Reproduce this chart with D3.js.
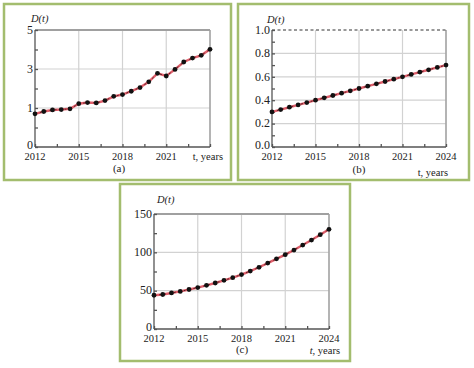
<!DOCTYPE html>
<html><head><meta charset="utf-8">
<script src="https://cdn.jsdelivr.net/npm/d3@7"></script>
<style>body{margin:0;background:#fff}svg{display:block}</style>
</head><body>
<svg id="c" width="474" height="368"></svg>
<script>
// ---- data ----
const tYears = [2012, 2012.6, 2013.2, 2013.8, 2014.4, 2015, 2015.6, 2016.2, 2016.8, 2017.4, 2018,
                2018.6, 2019.2, 2019.8, 2020.4, 2021, 2021.6, 2022.2, 2022.8, 2023.4, 2024];
const xTickYears = [2012, 2015, 2018, 2021, 2024];
const seriesA = [0.85, 0.91, 0.95, 0.96, 0.98, 1.22, 1.28, 1.26, 1.38, 1.60, 1.69,
                 1.86, 2.05, 2.34, 2.78, 2.64, 2.98, 3.36, 3.56, 3.70, 4.01];
const seriesB = [0.30, 0.32, 0.34, 0.36, 0.38, 0.40, 0.42, 0.44, 0.46, 0.48, 0.50,
                 0.52, 0.54, 0.56, 0.58, 0.60, 0.62, 0.64, 0.66, 0.68, 0.70];
const seriesC = [44, 45, 47, 49, 51.5, 54, 57, 60, 63.5, 67, 71,
                 75.5, 80.5, 86, 91.5, 97, 103, 109.5, 116, 123, 130];
const yTicksA = [0, 1, 3, 5];
const yTicksB = [0.0, 0.2, 0.4, 0.6, 0.8, 1.0];
const yTicksC = [0, 50, 100, 150];
const captions = ["(a)", "(b)", "(c)"];
const yLabel = "D(t)";
const xLabel = "t, years";

const svg = d3.select("#c");
const serif = "'Liberation Serif','Times New Roman',serif";

function panel(o) {
  const g = svg.append("g");
  // green frame
  g.append("rect").attr("x", o.box[0]).attr("y", o.box[1])
    .attr("width", o.box[2] - o.box[0]).attr("height", o.box[3] - o.box[1])
    .attr("fill", "#fff").attr("stroke", "#a3bd6e").attr("stroke-width", 2.5);

  const x = d3.scaleLinear().domain([2012, 2024]).range([o.plot[0], o.plot[2]]);
  const y = d3.scaleLinear().domain(o.yDomain).range(o.yRange);

  // grid
  const grid = g.append("g").attr("stroke", "#d2d2d2").attr("stroke-width", 1.2);
  xTickYears.slice(1).forEach(v => grid.append("line")
    .attr("x1", x(v)).attr("x2", x(v)).attr("y1", o.plot[1]).attr("y2", o.plot[3]));
  o.yTicks.slice(1, -1).forEach(v => grid.append("line")
    .attr("x1", o.plot[0]).attr("x2", o.plot[2]).attr("y1", y(v)).attr("y2", y(v)));
  // right frame
  g.append("line").attr("x1", o.plot[2]).attr("x2", o.plot[2]).attr("y1", o.plot[1]).attr("y2", o.plot[3])
    .attr("stroke", "#9a9a9a").attr("stroke-width", 1.3);
  // top line
  const top = o.yTicks[o.yTicks.length - 1];
  const tl = g.append("line").attr("x1", o.plot[0]).attr("x2", o.plot[2]).attr("y1", y(top)).attr("y2", y(top));
  if (o.dashedTop) tl.attr("stroke", "#333").attr("stroke-width", 1.2).attr("stroke-dasharray", "3,2.5");
  else tl.attr("stroke", "#a0a0a0").attr("stroke-width", 1.8);

  // minor ticks
  const minorX = d3.range(2012, 2024.01, 1.5);
  const ax = d3.axisBottom(x).tickValues(minorX).tickSize(-3).tickFormat("");
  const gx = g.append("g").attr("transform", `translate(0,${o.plot[3]})`).call(ax);
  gx.selectAll("path,line").attr("stroke", "#555").attr("stroke-width", 1.3);
  const minorY = [];
  for (let i = 0; i < o.yTicks.length - 1; i++) { minorY.push(o.yTicks[i], (o.yTicks[i] + o.yTicks[i + 1]) / 2); }
  minorY.push(top);
  const ay = d3.axisLeft(y).tickValues(minorY).tickSize(-3).tickFormat("");
  const gy = g.append("g").attr("transform", `translate(${o.plot[0]},0)`).call(ay);
  gy.selectAll("path,line").attr("stroke", "#555").attr("stroke-width", 1.3);
  gy.select("path").attr("d", `M0,${o.plot[3]}V${o.plot[1]}`);
  gx.select("path").attr("d", `M${o.plot[0]},0H${o.plot[2]}`);

  // tick labels
  const xl = o.showLastYear ? xTickYears : xTickYears.slice(0, -1);
  g.append("g").selectAll("text").data(xl).join("text")
    .attr("x", d => x(d)).attr("y", o.plot[3] + 12.5).attr("text-anchor", "middle")
    .attr("font-family", serif).attr("font-size", 10.5).attr("fill", "#222").text(d => d);
  g.append("g").selectAll("text").data(o.yTicks).join("text")
    .attr("x", o.plot[0] - 2).attr("y", (d, i) => y(d) + (i === 0 ? 2 : 3.8)).attr("text-anchor", "end")
    .attr("font-family", serif).attr("font-size", o.yFont).attr("fill", "#222").text(o.yFmt);

  // axis titles
  g.append("text").attr("x", o.dLab[0]).attr("y", o.dLab[1])
    .attr("font-family", serif).attr("font-style", "italic").attr("font-size", 10.5).attr("fill", "#222")
    .text(yLabel);
  const xt = g.append("text").attr("x", o.xLab[0]).attr("y", o.xLab[1]).attr("text-anchor", o.xLabAnchor)
    .attr("font-family", serif).attr("font-size", 10.5).attr("fill", "#222");
  if (o.italicT) { xt.append("tspan").attr("font-style", "italic").text(xLabel.slice(0, 1)); xt.append("tspan").text(xLabel.slice(1)); }
  else xt.text(xLabel);
  g.append("text").attr("x", o.cap[0]).attr("y", o.cap[1]).attr("text-anchor", "middle")
    .attr("font-family", serif).attr("font-size", 11).attr("fill", "#222").text(o.caption);

  // series
  const pts = tYears.map((t, i) => [x(t), y(o.values[i])]);
  const line = d3.line();
  g.append("path").attr("d", line(pts)).attr("fill", "none").attr("stroke", "#e0606c").attr("stroke-width", 2.4);
  g.append("path").attr("d", line(pts)).attr("fill", "none").attr("stroke", "#5a1f24").attr("stroke-width", 1)
    .attr("stroke-dasharray", "2,3");
  g.append("g").selectAll("circle").data(pts).join("circle")
    .attr("cx", d => d[0]).attr("cy", d => d[1]).attr("r", 2.4).attr("fill", "#111");
}

panel({ box: [4, 4, 231, 180], plot: [35, 30, 210, 147], yDomain: [0, 1, 3, 5], yRange: [147, 108, 69, 30],
  yTicks: yTicksA, yFmt: d => d, yFont: 12, values: seriesA, showLastYear: false,
  dLab: [31, 22], xLab: [223, 159.5], xLabAnchor: "end", italicT: false, cap: [119, 172], caption: captions[0] });
panel({ box: [238, 4, 469, 180], plot: [272, 30, 446, 147], yDomain: [0, 1], yRange: [147, 30],
  yTicks: yTicksB, yFmt: d => d.toFixed(1), yFont: 12, values: seriesB, showLastYear: true, dashedTop: true,
  dLab: [267, 23], xLab: [448, 176], xLabAnchor: "end", italicT: false, cap: [359, 173], caption: captions[1] });
panel({ box: [120, 184, 350, 361], plot: [154, 214, 329, 329], yDomain: [0, 150], yRange: [329, 214],
  yTicks: yTicksC, yFmt: d => d, yFont: 12, values: seriesC, showLastYear: true,
  dLab: [157, 203], xLab: [340, 354], xLabAnchor: "end", italicT: true, cap: [242, 353], caption: captions[2] });
</script>
</body></html>
